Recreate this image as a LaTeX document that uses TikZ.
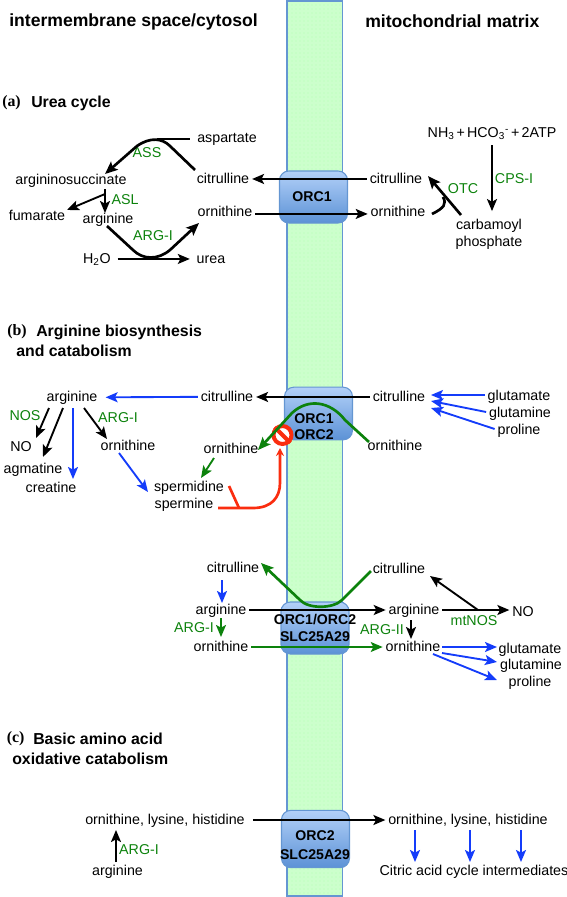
\documentclass[tikz,border=0pt]{standalone}
\usepackage{fontspec}
\setmainfont{Liberation Sans}
\newfontfamily\serifhead{Liberation Serif}
\usetikzlibrary{arrows.meta,positioning,calc,patterns}
\definecolor{pathgreen}{RGB}{12,130,12}
\definecolor{pathblue} {RGB}{20,60,250}
\definecolor{pathred}  {RGB}{250,45,15}
\definecolor{memline}  {RGB}{100,150,210}
\definecolor{memfill}  {RGB}{204,255,204}
\definecolor{orctop}   {RGB}{178,208,248}
\definecolor{orcbot}   {RGB}{92,146,214}

\begin{document}
\begin{tikzpicture}[x=0.75pt,y=-0.75pt,
          txt/.style={font=\fontsize{10.7}{12}\selectfont,inner sep=2pt,text height=9.6pt,text depth=1pt},
          enz/.style={txt,text=pathgreen},
          head/.style={font=\fontsize{11.9}{13}\selectfont\bfseries,inner sep=0pt,anchor=west},
          title/.style={font=\fontsize{13.2}{14}\selectfont\bfseries,inner sep=0pt,anchor=west},
          tag/.style={font=\fontsize{11.9}{13}\selectfont\bfseries\serifhead,inner sep=0pt,anchor=west},
          orc/.style={rounded corners=7pt,draw=memline,thick,top color=orctop,bottom color=orcbot,minimum width=51pt},
          orctxt/.style={font=\fontsize{10.6}{12}\selectfont\bfseries,inner sep=0pt},
          blk/.style={-{Stealth[length=9pt,width=7.5pt,inset=2pt]},line width=1.4pt,black},
          blu/.style={-{Stealth[length=9pt,width=7.5pt,inset=2pt]},line width=1.4pt,pathblue},
          grn/.style={-{Stealth[length=9pt,width=7.5pt,inset=2pt]},line width=1.4pt,pathgreen},
          bowblk/.style={-{Stealth[length=9.5pt,width=8pt,inset=2pt]},line width=2pt,black},
          bowgrn/.style={-{Stealth[length=9.5pt,width=8pt,inset=2pt]},line width=2pt,pathgreen},
          inhib/.style={line width=2pt,pathred}
      ]
        \useasboundingbox (0,0) rectangle (567,897);
        % membrane and carriers
        \fill[memfill] (287,1) rectangle (342.5,896);
        \fill[pattern=dots,pattern color=green!60!white,opacity=.25] (287,1) rectangle (342.5,896);
        \draw[memline,thick] (287,1) rectangle (342.5,896);
        \node[orc,minimum height=39pt] (orcA) at (313.5,197) {};
        \node[orc,minimum height=39.5pt] (orcB) at (318.5,413.5) {};
        \node[orc,minimum height=39pt] (orcC) at (315,628) {};
        \node[orc,minimum height=43pt] (orcD) at (315.5,839) {};
        \node[orctxt] (orcAname) at (312,197) {ORC1};
        \node[orctxt] (orcBone) at (314,419) {ORC1};
        \node[orctxt] (orcBtwo) at (314,435) {ORC2};
        \node[orctxt] (orcCone) at (315,620) {ORC1/ORC2};
        \node[orctxt] (orcCtwo) at (315,637) {SLC25A29};
        \node[orctxt] (orcDone) at (315,836) {ORC2};
        \node[orctxt] (orcDtwo) at (315,855) {SLC25A29};

        % column titles
        \node[title] (titleL) at (9,21.5) {intermembrane space/cytosol};
        \node[title] (titleR) at (365,21.5) {mitochondrial matrix};

        % (a) urea cycle
        \node[tag] (tagA) at (2,103) {(a)};
        \node[head] (headA) at (31,103) {Urea cycle};
        \node[txt] (aspA) at (227,137) {aspartate};
        \node[txt] (citA) at (223,177.5) {citrulline};
        \node[txt] (ascA) at (71,179) {argininosuccinate};
        \node[txt] (fumA) at (37,215) {fumarate};
        \node[txt] (argA) at (108,218) {arginine};
        \node[txt] (ornA) at (225,211) {ornithine};
        \node[txt] (watA) at (97,257.5) {H\textsubscript{2}O};
        \node[txt] (ureA) at (211,257.5) {urea};
        \node[txt] (citAr) at (396,177.5) {citrulline};
        \node[txt] (ornAr) at (398,211) {ornithine};
        \node[txt] (nhA) at (492,132) {NH\textsubscript{3}\hspace{.15em}+\hspace{.15em}HCO\textsubscript{3}\textsuperscript{-}\hspace{.15em}+\hspace{.15em}2ATP};
        \node[txt] (cbmA) at (489,224) {carbamoyl};
        \node[txt] (phoA) at (489,241) {phosphate};
        \node[enz] (assA) at (147,152) {ASS};
        \node[enz] (aslA) at (125,199) {ASL};
        \node[enz] (argiA) at (153,235) {ARG-I};
        \node[enz] (otcA) at (463,188) {OTC};
        \node[enz] (cpsA) at (514,178) {CPS-I};
        \coordinate (assstart) at (195,170);
        \coordinate (asstip) at (105,174);
        \coordinate (aspjoin) at (157,139);
        \coordinate (aspend) at (190,139);
        \coordinate (aslstart) at (105,189);
        \coordinate (asltip) at (105,213);
        \coordinate (aslfork) at (105,194);
        \coordinate (fumtip) at (67,210);
        \coordinate (argistart) at (107,226);
        \coordinate (argitip) at (199,223);
        \coordinate (otcfork) at (443,197);
        \coordinate (otcstart) at (461,215);
        \coordinate (otctip) at (428,176);
        \coordinate (otcorn) at (432,214);
        \draw[bowblk] (assstart) -- (170,146) .. controls (162,138) and (150,137) .. (137,146) -- (asstip);
        \draw[bowblk,-] (aspjoin) -- (aspend);
        \draw[blk] (aslstart) -- (asltip);
        \draw[blk] (aslfork) -- (fumtip);
        \draw[bowblk] (argistart) -- (133,250) .. controls (143,260) and (158,260) .. (170,250) -- (argitip);
        \draw[blk,shorten <=3pt,shorten >=3pt] ([yshift=-1.1pt]watA.east) -- ([yshift=-1.1pt]ureA.west);
        \draw[blk] ([yshift=-1.1pt]citAr.west) -- ([yshift=-1.1pt]citA.east);
        \draw[blk] ([yshift=-2.2pt]ornA.east) -- ([yshift=-2.2pt]ornAr.west);
        \draw[blk,shorten <=2.5pt,shorten >=2.2pt] (nhA.south) -- (cbmA.north -| nhA);
        \draw[bowblk] (otcstart) -- (otctip);
        \draw[bowblk,-] (otcorn) .. controls (444,208) and (447,204) .. (otcfork);

        % (b) arginine biosynthesis
        \node[tag] (tagB) at (7,332) {(b)};
        \node[head] (headB) at (36,332) {Arginine biosynthesis};
        \node[head] (headBb) at (16,351) {and catabolism};
        \node[txt] (argB) at (72,396) {arginine};
        \node[txt] (citB) at (227,395.5) {citrulline};
        \node[txt] (citBr) at (399,395.5) {citrulline};
        \node[txt] (gluB) at (519,395) {glutamate};
        \node[txt] (glnB) at (520,412) {glutamine};
        \node[txt] (proB) at (519,429) {proline};
        \node[txt] (ornBr) at (395,445) {ornithine};
        \node[txt] (ornBl) at (231,448) {ornithine};
        \node[txt] (spdB) at (189,486) {spermidine};
        \node[txt] (spmB) at (184,503) {spermine};
        \node[enz] (nosB) at (25,415) {NOS};
        \node[enz] (argiB) at (118,417) {ARG-I};
        \node[txt] (noB) at (21,446) {NO};
        \node[txt] (ornB) at (128,445) {ornithine};
        \node[txt] (agmB) at (33,468) {agmatine};
        \node[txt] (creB) at (51,487) {creatine};
        \coordinate (glutip) at (431,395);
        \coordinate (glntip) at (431,401);
        \coordinate (protip) at (431,408);
        \coordinate (argnoa) at (49,408);   \coordinate (notip) at (36,438);
        \coordinate (argagm) at (63,408);   \coordinate (agmtip) at (43,457);
        \coordinate (argcre) at (73,408);   \coordinate (cretip) at (73,479);
        \coordinate (argorn) at (84,408);   \coordinate (orntip) at (107,439);
        \coordinate (ornsp) at (119,453);   \coordinate (sptip) at (148,492);
        \coordinate (arcstart) at (369,442);\coordinate (arctip) at (258,450);
        \coordinate (ornspd) at (214,458);  \coordinate (spdtip) at (201,478);
        \coordinate (redstart) at (218,508);\coordinate (redtip) at (280,448);
        \coordinate (redbar) at (229,486);  \coordinate (redfoot) at (239,508);
        \draw[blu,shorten >=4pt] ([yshift=-1pt]citB.west) -- ([yshift=-1pt]argB.east);
        \draw[blk] ([yshift=-1.1pt]citBr.west) -- ([yshift=-1.1pt]citB.east);
        \draw[blu] (gluB.west) -- (glutip);
        \draw[blu] (glnB.west) -- (glntip);
        \draw[blu] (proB.west) -- (protip);
        \draw[blk] (argnoa) -- (notip);
        \draw[blk] (argagm) -- (agmtip);
        \draw[blu] (argcre) -- (cretip);
        \draw[blk] (argorn) -- (orntip);
        \draw[blu] (ornsp) -- (sptip);
        \draw[grn] (ornspd) -- (spdtip);
        \draw[inhib,-{Stealth[length=6pt,width=6pt]}] (redstart) -- (253,508) .. controls (272,508) and (280,497) .. (280,483) -- (redtip);
        \draw[inhib] (redbar) -- (redfoot);
        \node[draw=pathred,line width=3pt,circle,fill=white,minimum size=13.5pt,inner sep=0pt] (stopB) at (282.5,435) {};
        \draw[pathred,line width=3pt] (stopB.north west) -- (stopB.south east);
        \draw[bowgrn] (arcstart) -- (345,420) .. controls (330,401) and (308,398) .. (292,413) -- (arctip);

        % (b) second transporter
        \node[txt] (citCl) at (233,567) {citrulline};
        \node[txt] (citCr) at (399,568) {citrulline};
        \node[txt] (argCl) at (221,609) {arginine};
        \node[txt] (argCr) at (414,609) {arginine};
        \node[txt] (noC) at (523,611) {NO};
        \node[txt] (ornCl) at (221,646) {ornithine};
        \node[txt] (ornCr) at (413,646) {ornithine};
        \node[enz] (argiC) at (194,627) {ARG-I};
        \node[enz] (argiiC) at (382,629) {ARG-II};
        \node[enz] (mtnC) at (474,620) {mtNOS};
        \node[txt] (gluC) at (530,648) {glutamate};
        \node[txt] (glnC) at (531,664) {glutamine};
        \node[txt] (proC) at (530,681) {proline};
        \coordinate (mtnfork) at (478,610);  \coordinate (mtntip) at (430,576);
        \coordinate (ustart) at (371,571);   \coordinate (utip) at (261,563);
        \coordinate (citargl) at (222,580);  \coordinate (citargt) at (222,603);
        \coordinate (argornl) at (221,618);  \coordinate (argornt) at (221,637);
        \coordinate (argornr) at (411,620);  \coordinate (argorns) at (411,639);
        \coordinate (ornglu) at (442,647);   \coordinate (glutipC) at (497,647);
        \coordinate (orngln) at (442,653);   \coordinate (glntipC) at (497,662);
        \coordinate (ornpro) at (433,654);   \coordinate (protipC) at (497,680);
        \draw[blk] ([yshift=-.75pt]argCl.east) -- ([yshift=-.75pt]argCr.west);
        \draw[grn,line width=1.1pt] ([yshift=-.75pt]ornCl.east) -- ([yshift=-.75pt]ornCr.west);
        \draw[blk] ([yshift=-.75pt]argCr.east) -- ([yshift=.75pt]noC.west);
        \draw[blk] (mtnfork) -- (mtntip);
        \draw[bowgrn] (ustart) -- (342,600) .. controls (333,609) and (308,609) .. (300,600) -- (utip);
        \draw[blu] (citargl) -- (citargt);
        \draw[grn] (argornl) -- (argornt);
        \draw[blk] (argornr) -- (argorns);
        \draw[blu] (ornglu) -- (glutipC);
        \draw[blu] (orngln) -- (glntipC);
        \draw[blu] (ornpro) -- (protipC);

        % (c) basic amino acids
        \node[tag] (tagC) at (6.5,739) {(c)};
        \node[head] (headC) at (33,739) {Basic amino acid};
        \node[head] (headCb) at (12,759) {oxidative catabolism};
        \node[txt] (lysCl) at (165,819) {ornithine, lysine, histidine};
        \node[txt] (lysCr) at (468,819) {ornithine, lysine, histidine};
        \node[enz] (argiD) at (139,849) {ARG-I};
        \node[txt] (argD) at (117.5,870) {arginine};
        \node[txt] (citrD) at (474,870) {Citric acid cycle intermediates};
        \coordinate (argup) at (116,862);  \coordinate (arguptip) at (116,830);
        \coordinate (tcaa) at (415,830);   \coordinate (tcaat) at (415,862);
        \coordinate (tcab) at (470,830);   \coordinate (tcabt) at (470,862);
        \coordinate (tcac) at (521,830);   \coordinate (tcact) at (521,862);
        \draw[blk,shorten <=4pt] ([yshift=-.75pt]lysCl.east) -- ([yshift=-.75pt]lysCr.west);
        \draw[blk] (argup) -- (arguptip);
        \draw[blu] (tcaa) -- (tcaat);
        \draw[blu] (tcab) -- (tcabt);
        \draw[blu] (tcac) -- (tcact);
      \end{tikzpicture}
\end{document}
